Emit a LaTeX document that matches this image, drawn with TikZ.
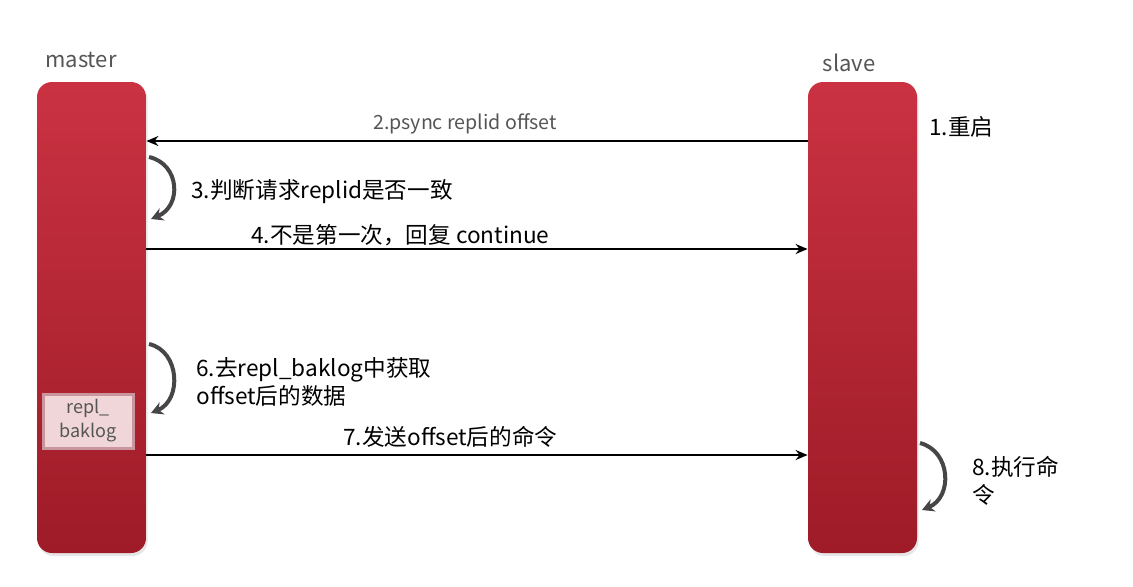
\documentclass[tikz,border=0pt]{standalone}
\usepackage{fontspec}
\setmainfont{Noto Sans CJK SC}
\usetikzlibrary{arrows.meta,shadows}

\definecolor{bartop}{RGB}{202,50,66}
\definecolor{barbottom}{RGB}{158,27,39}
\definecolor{logpink}{RGB}{240,214,217}
\definecolor{logedge}{RGB}{200,150,156}
\definecolor{labelgray}{RGB}{85,85,85}
\definecolor{loopgray}{RGB}{70,70,70}

\begin{document}
\begin{tikzpicture}[x=0.5pt, y=-0.5pt,
    bar/.style={rounded corners=7.5pt, top color=bartop, bottom color=barbottom,
        minimum width=54.5pt, minimum height=235.5pt, inner sep=0pt,
        drop shadow={opacity=0.2, shadow xshift=0.8pt, shadow yshift=-1.5pt}},
    title/.style={text=labelgray, font=\fontsize{11}{13}\selectfont},
    msg/.style={-{Stealth[length=6pt,width=5pt]}, line width=0.8pt},
    step label/.style={font=\fontsize{11.3}{14}\selectfont, align=left, anchor=west, inner sep=0pt},
    loop/.style={-{Stealth[length=6pt,width=6.5pt]}, line width=2pt, draw=loopgray}]
    \useasboundingbox (0,0) rectangle (1133,586);

    % Master and slave bars
    \node[bar] (master) at (91.5,317.5) {};
    \node[bar] (slave) at (862.5,317.5) {};
    \node[title] (mastertitle) at (81,60) {master};
    \node[title] (slavetitle) at (849,63) {slave};

    % repl_baklog buffer inside master
    \node[fill=logpink, draw=logedge, line width=1.5pt, minimum width=45pt, minimum height=27pt,
        text=labelgray, align=center, inner sep=0pt, font=\fontsize{9}{12}\selectfont]
        (baklog) at (88,421) {repl\_\\baklog};

    % 1. restart
    \node[step label] (s1) at (929,127) {1.重启};

    % 2. psync request
    \draw[msg] (slave.west |- 0,141) -- (master.east |- 0,141);
    \node[text=labelgray, font=\fontsize{9.8}{11}\selectfont] (s2) at (465,124) {2.psync replid offset};

    % 3. check replid
    \coordinate (l3a) at (149,157);
    \coordinate (l3b) at (151,219);
    \draw[loop] (l3a) .. controls (180,164) and (182,206) .. (l3b);
    \node[step label] (s3) at (191,192) {3.判断请求replid是否一致};

    % 4. reply continue
    \draw[msg] (master.east |- 0,249) -- (slave.west |- 0,249);
    \node[step label] (s4) at (251,235) {4.不是第一次，回复 continue};

    % 6. read from backlog
    \coordinate (l6a) at (149,344);
    \coordinate (l6b) at (151,413);
    \draw[loop] (l6a) .. controls (180,351) and (182,400) .. (l6b);
    \node[step label] (s6) at (196,382) {6.去repl\_baklog中获取\\offset后的数据};

    % 7. send commands
    \draw[msg] (master.east |- 0,455) -- (slave.west |- 0,455);
    \node[step label] (s7) at (343,437) {7.发送offset后的命令};

    % 8. execute commands
    \coordinate (l8a) at (920,443);
    \coordinate (l8b) at (922,510);
    \draw[loop] (l8a) .. controls (951,451) and (953,497) .. (l8b);
    \node[step label] (s8) at (972,481) {8.执行命\\令};
\end{tikzpicture}
\end{document}
